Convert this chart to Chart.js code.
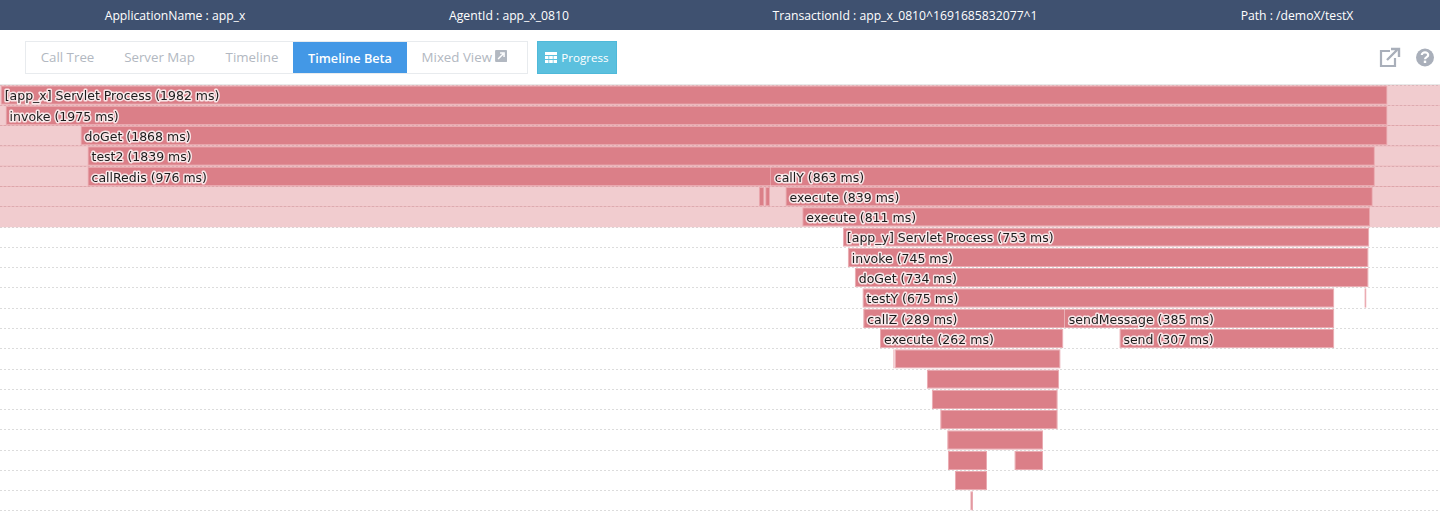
<!DOCTYPE html>
<html>
<head>
<meta charset="utf-8">
<title>Transaction Timeline</title>
<script src="https://cdn.jsdelivr.net/npm/chart.js@4/dist/chart.umd.min.js"></script>
<style>
html, body { margin: 0; padding: 0; background: #fff; overflow: hidden; }
body { width: 1440px; height: 526px; position: relative; font-family: "Open Sans", sans-serif; }
#header { position: absolute; left: 0; top: 0; width: 1440px; height: 30px; background: #3f5170; color: #fff; font-size: 12.2px; }
#header span { position: absolute; top: 0; line-height: 32px; transform: translateX(-50%); white-space: nowrap; }
#tabs { position: absolute; left: 25px; top: 41px; width: 501px; height: 31px; border: 1px solid #e8ebee; }
.tab { position: absolute; top: 15px; transform: translate(-50%, -50%); color: #b2b8c1; font-size: 13.3px; white-space: nowrap; }
#active { position: absolute; left: 267px; top: 0; width: 114px; height: 31px; background: #4398e6; color: #fff; font-size: 12.7px; font-weight: 600; text-align: center; line-height: 32px; }
#progress { position: absolute; left: 537px; top: 41px; width: 80px; height: 33px; background: #5bc0de; color: #fff; font-size: 11.6px; line-height: 31px; text-align: center; box-sizing: border-box; border: 1px solid #4fb9d9; }
#progress svg { vertical-align: -1px; margin-right: 4px; }
#rule { position: absolute; left: 0; top: 84px; width: 1440px; height: 1px; background: #e8e8e8; }
#chartBox { position: absolute; left: 0; top: 85px; width: 1440px; height: 428px; }
.icon { position: absolute; top: 47px; }
</style>
</head>
<body>
<div id="header">
  <span style="left:175px">ApplicationName : app_x</span>
  <span style="left:509px">AgentId : app_x_0810</span>
  <span style="left:905px">TransactionId : app_x_0810^1691685832077^1</span>
  <span style="left:1297px">Path : /demoX/testX</span>
</div>
<div id="tabs">
  <span class="tab" style="left:41.5px">Call Tree</span>
  <span class="tab" style="left:133.5px">Server Map</span>
  <span class="tab" style="left:226px">Timeline</span>
  <div id="active">Timeline Beta</div>
  <span class="tab" style="left:438.5px">Mixed View
    <svg width="12" height="12" viewBox="0 0 12 12" style="vertical-align:0"><rect width="12" height="12" rx="1" fill="#b2b8c1"/><path d="M3 9 L8 4 M5 3 H9 V7" stroke="#fff" stroke-width="1.5" fill="none"/></svg>
  </span>
</div>
<div id="progress"><svg width="12" height="11" viewBox="0 0 12 11"><path d="M0 0H12V3H0ZM0 4H3.5V7H0ZM4.2 4H7.8V7H4.2ZM8.5 4H12V7H8.5ZM0 8H3.5V11H0ZM4.2 8H7.8V11H4.2ZM8.5 8H12V11H8.5Z" fill="#fff"/></svg>Progress</div>
<svg class="icon" style="left:1379px" width="22" height="21" viewBox="0 0 22 21">
  <path d="M11 4 H2 V19 H16 V11" stroke="#a9afba" stroke-width="2.2" fill="none"/>
  <path d="M8 13 L18 3 M12 2 H20 V10" stroke="#a9afba" stroke-width="2.4" fill="none"/>
</svg>
<svg class="icon" style="left:1415px" width="20" height="20" viewBox="0 0 20 20">
  <circle cx="10" cy="10.5" r="9" fill="#a9afba"/>
  <path d="M6.8 8 C6.8 4.6 13.2 4.6 13.2 8 C13.2 10.3 10 10 10 12.3" stroke="#fff" stroke-width="2.2" fill="none"/>
  <rect x="8.8" y="13.6" width="2.4" height="2.4" fill="#fff"/>
</svg>
<div id="rule"></div>
<div id="chartBox"><canvas id="timeline" width="1440" height="428"></canvas></div>

<script>
// Call stack depth, one row per depth
var depths = ['0', '1', '2', '3', '4', '5', '6', '7', '8', '9', '10', '11', '12', '13', '14', '15', '16', '17', '18', '19', '20'];

// Spans as [start ms, end ms]. A row with several spans uses the next lane
var laneA = [[1, 1982], [8, 1982], [115, 1982], [125, 1964], [125, 1101], [1122, 1961], [1146, 1957],
    [1204, 1956], [1211, 1955], [1221, 1955], [1232, 1906], [1233, 1521], [1257, 1519], [1278, 1515],
    [1324, 1513], [1331, 1511], [1343, 1511], [1353, 1490], [1354, 1410], [1364, 1410], [1386, 1390]];
var laneB = [null, null, null, null, [1101, 1964], [1084, 1092], null,
    null, null, null, [1949, 1952], [1521, 1906], [1599, 1906], [1276, 1278],
    null, null, null, null, [1449, 1490], null, null];
var laneC = [null, null, null, null, null, [1093, 1100], null,
    null, null, null, null, null, null, null,
    null, null, null, null, null, null, null];

var laneALabels = ['[app_x] Servlet Process (1982 ms)', 'invoke (1975 ms)', 'doGet (1868 ms)', 'test2 (1839 ms)',
    'callRedis (976 ms)', 'execute (839 ms)', 'execute (811 ms)', '[app_y] Servlet Process (753 ms)',
    'invoke (745 ms)', 'doGet (734 ms)', 'testY (675 ms)', 'callZ (289 ms)', 'execute (262 ms)'];
var laneBLabels = [null, null, null, null, 'callY (863 ms)', null, null, null, null, null, null,
    'sendMessage (385 ms)', 'send (307 ms)'];

// Pale band behind the selected transaction, rows 0 to 6
var bandRange = [0, 2057];
var bandRows = 7;
var axisMaxMs = 2057;

var barColor = '#db7f88';
var barEdge = '#eaa9b0';

// Spans that touch in the same row share no edge line
function touches(i) {
    return laneA[i] && laneB[i] && laneA[i][1] === laneB[i][0];
}

function laneDataset(values) {
    return {
        data: values,
        grouped: false,
        backgroundColor: barColor,
        borderColor: barEdge,
        borderWidth: function (ctx) {
            var joined = touches(ctx.dataIndex);
            return {
                top: 1,
                bottom: 1,
                left: joined && values === laneB ? 0 : 1,
                right: joined && values === laneA ? 0 : 1
            };
        },
        borderSkipped: false,
        barPercentage: 1,
        categoryPercentage: 0.95
    };
}

// Draw the span names over the bars
var spanLabelPlugin = {
    id: 'spanLabels',
    afterDatasetsDraw: function (chart) {
        var ctx = chart.ctx;
        var x = chart.scales.x;
        var y = chart.scales.y;

        function drawLane(lane, names) {
            names.forEach(function (name, i) {
                if (!name) return;
                var px = x.getPixelForValue(lane[i][0]) + 4;
                var py = y.getPixelForValue(i) + 2;
                ctx.strokeText(name, px, py);
                ctx.fillText(name, px, py);
            });
        }

        ctx.save();
        ctx.font = '12.5px "DejaVu Sans"';
        ctx.textBaseline = 'middle';
        ctx.lineJoin = 'round';
        ctx.lineWidth = 3;
        ctx.strokeStyle = 'rgba(255,255,255,0.8)';
        ctx.fillStyle = '#1c1c1c';
        drawLane(laneA, laneALabels);
        drawLane(laneB, laneBLabels);
        ctx.restore();
    }
};

var band = depths.map(function (d, i) { return i < bandRows ? bandRange : null; });

new Chart(document.getElementById('timeline').getContext('2d'), {
    type: 'bar',
    data: {
        labels: depths,
        datasets: [
            // first dataset is drawn on top
            laneDataset(laneA),
            laneDataset(laneB),
            laneDataset(laneC),
            {
                data: band,
                grouped: false,
                backgroundColor: 'rgba(219,127,136,0.4)',
                borderWidth: 0,
                barPercentage: 1,
                categoryPercentage: 1
            }
        ]
    },
    options: {
        indexAxis: 'y',
        responsive: false,
        animation: false,
        layout: { padding: { bottom: 2 } },
        plugins: {
            legend: { display: false },
            tooltip: { enabled: false }
        },
        scales: {
            x: {
                display: false,
                min: 0,
                max: axisMaxMs
            },
            y: {
                offset: true,
                ticks: { display: false },
                border: { display: false, dash: [2, 2] },
                grid: {
                    offset: true,
                    drawTicks: false,
                    color: '#dcdcdc',
                    lineWidth: 1
                }
            }
        }
    },
    plugins: [spanLabelPlugin]
});
</script>
</body>
</html>
